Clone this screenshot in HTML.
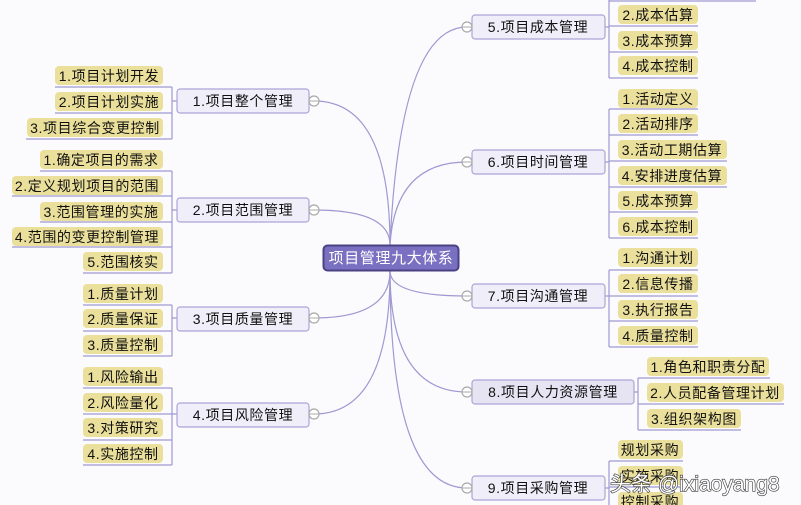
<!DOCTYPE html>
<html><head><meta charset="utf-8"><style>
html,body{margin:0;padding:0;background:#fbfbfd;}
svg{display:block}
text{font-family:"Liberation Sans","Noto Sans CJK SC",sans-serif;font-size:14px;fill:#111;letter-spacing:0.6px}
.lf{fill:#ebe09b}
.nd{fill:#efeef9;stroke:#aaa5d8;stroke-width:1.2}
.ln{fill:none;stroke:#9f99d3;stroke-width:1.2}
.cc{fill:#fff;stroke:#aaa;stroke-width:1.2}
</style></head><body>
<svg width="801" height="505" viewBox="0 0 801 505" xmlns="http://www.w3.org/2000/svg">
<g class="ln">
<path d="M390 245 Q390 101 314 101"/>
<path d="M390 245 Q390 210 314 210"/>
<path d="M390 271 Q390 318 314 318"/>
<path d="M390 271 Q390 414 314 414"/>
<path d="M390 245 Q400 27 467 27"/>
<path d="M390 245 Q395 162 467 162"/>
<path d="M390 271 Q390 296 467 296"/>
<path d="M390 271 Q390 392 467 392"/>
<path d="M390 271 Q390 488 467 488"/>
</g>
<g class="ln">
<path d="M55 87H172M55 113H172M26 139H172M172 87V139M172 101H177"/>
<path d="M40 171H172M12 196H172M40 222H172M12 247H172M83 273H172M172 171V273M172 210H177"/>
<path d="M83 305H172M83 331H172M83 356H172M172 305V356M172 318H177"/>
<path d="M83 388H172M83 414H172M83 440H172M83 465H172M172 388V465M172 414H177"/>
<path d="M609 1H756M609 26H698M609 52H698M609 78H698M609 0V78M605 27H609"/>
<path d="M609 109H698M609 135H698M609 161H727M609 187H727M609 212H698M609 238H698M609 109V238M605 162H609"/>
<path d="M609 270H698M609 296H698M609 321H698M609 347H698M609 270V347M605 296H609"/>
<path d="M638 378H770M638 404H784M638 430H741M638 378V430M634 392H638"/>
<path d="M609 461H683M609 487H683M609 461V505M605 488H609"/>
</g>
<g>
<rect class="lf" x="55" y="66" width="108" height="19" rx="4"/><text x="109" y="81" text-anchor="middle">1.项目计划开发</text>
<rect class="lf" x="55" y="92" width="108" height="19" rx="4"/><text x="109" y="107" text-anchor="middle">2.项目计划实施</text>
<rect class="lf" x="27" y="118" width="136" height="19" rx="4"/><text x="95" y="133" text-anchor="middle">3.项目综合变更控制</text>
<rect class="lf" x="40" y="150" width="123" height="19" rx="4"/><text x="101" y="165" text-anchor="middle">1.确定项目的需求</text>
<rect class="lf" x="12" y="176" width="151" height="19" rx="4"/><text x="87" y="191" text-anchor="middle">2.定义规划项目的范围</text>
<rect class="lf" x="40" y="202" width="123" height="19" rx="4"/><text x="101" y="217" text-anchor="middle">3.范围管理的实施</text>
<rect class="lf" x="12" y="227" width="151" height="19" rx="4"/><text x="87" y="242" text-anchor="middle">4.范围的变更控制管理</text>
<rect class="lf" x="83" y="252" width="80" height="19" rx="4"/><text x="123" y="267" text-anchor="middle">5.范围核实</text>
<rect class="lf" x="83" y="284" width="80" height="19" rx="4"/><text x="123" y="299" text-anchor="middle">1.质量计划</text>
<rect class="lf" x="83" y="309" width="80" height="19" rx="4"/><text x="123" y="324" text-anchor="middle">2.质量保证</text>
<rect class="lf" x="83" y="335" width="80" height="19" rx="4"/><text x="123" y="350" text-anchor="middle">3.质量控制</text>
<rect class="lf" x="83" y="367" width="80" height="19" rx="4"/><text x="123" y="382" text-anchor="middle">1.风险输出</text>
<rect class="lf" x="83" y="393" width="80" height="19" rx="4"/><text x="123" y="408" text-anchor="middle">2.风险量化</text>
<rect class="lf" x="83" y="418" width="80" height="19" rx="4"/><text x="123" y="433" text-anchor="middle">3.对策研究</text>
<rect class="lf" x="83" y="444" width="80" height="19" rx="4"/><text x="123" y="459" text-anchor="middle">4.实施控制</text>
</g>
<g>
<rect class="lf" x="618" y="5" width="80" height="19" rx="4"/><text x="658" y="20" text-anchor="middle">2.成本估算</text>
<rect class="lf" x="618" y="31" width="80" height="19" rx="4"/><text x="658" y="46" text-anchor="middle">3.成本预算</text>
<rect class="lf" x="618" y="56" width="80" height="19" rx="4"/><text x="658" y="71" text-anchor="middle">4.成本控制</text>
<rect class="lf" x="618" y="89" width="80" height="19" rx="4"/><text x="658" y="104" text-anchor="middle">1.活动定义</text>
<rect class="lf" x="618" y="114" width="80" height="19" rx="4"/><text x="658" y="129" text-anchor="middle">2.活动排序</text>
<rect class="lf" x="618" y="140" width="109" height="19" rx="4"/><text x="672" y="155" text-anchor="middle">3.活动工期估算</text>
<rect class="lf" x="618" y="166" width="109" height="19" rx="4"/><text x="672" y="181" text-anchor="middle">4.安排进度估算</text>
<rect class="lf" x="618" y="191" width="80" height="19" rx="4"/><text x="658" y="206" text-anchor="middle">5.成本预算</text>
<rect class="lf" x="618" y="217" width="80" height="19" rx="4"/><text x="658" y="232" text-anchor="middle">6.成本控制</text>
<rect class="lf" x="618" y="248" width="80" height="19" rx="4"/><text x="658" y="263" text-anchor="middle">1.沟通计划</text>
<rect class="lf" x="618" y="274" width="80" height="19" rx="4"/><text x="658" y="289" text-anchor="middle">2.信息传播</text>
<rect class="lf" x="618" y="300" width="80" height="19" rx="4"/><text x="658" y="315" text-anchor="middle">3.执行报告</text>
<rect class="lf" x="618" y="326" width="80" height="19" rx="4"/><text x="658" y="341" text-anchor="middle">4.质量控制</text>
<rect class="lf" x="647" y="357" width="122" height="19" rx="4"/><text x="708" y="372" text-anchor="middle">1.角色和职责分配</text>
<rect class="lf" x="647" y="383" width="137" height="19" rx="4"/><text x="715" y="398" text-anchor="middle">2.人员配备管理计划</text>
<rect class="lf" x="647" y="409" width="94" height="19" rx="4"/><text x="694" y="424" text-anchor="middle">3.组织架构图</text>
<rect class="lf" x="618" y="440" width="65" height="19" rx="4"/><text x="650" y="455" text-anchor="middle">规划采购</text>
<rect class="lf" x="618" y="466" width="65" height="19" rx="4"/><text x="650" y="481" text-anchor="middle">实施采购</text>
<rect class="lf" x="618" y="492" width="65" height="19" rx="4"/><text x="650" y="507" text-anchor="middle">控制采购</text>
</g>
<g>
<rect class="nd" x="177" y="89" width="132" height="24" rx="3"/><text x="243" y="106" text-anchor="middle">1.项目整个管理</text>
<rect class="nd" x="177" y="198" width="132" height="24" rx="3"/><text x="243" y="215" text-anchor="middle">2.项目范围管理</text>
<rect class="nd" x="177" y="307" width="132" height="24" rx="3"/><text x="243" y="324" text-anchor="middle">3.项目质量管理</text>
<rect class="nd" x="177" y="403" width="132" height="24" rx="3"/><text x="243" y="420" text-anchor="middle">4.项目风险管理</text>
<rect class="nd" x="472" y="15" width="133" height="24" rx="3"/><text x="538" y="32" text-anchor="middle">5.项目成本管理</text>
<rect class="nd" x="472" y="150" width="133" height="24" rx="3"/><text x="538" y="167" text-anchor="middle">6.项目时间管理</text>
<rect class="nd" x="472" y="284" width="133" height="24" rx="3"/><text x="538" y="301" text-anchor="middle">7.项目沟通管理</text>
<rect class="nd" x="472" y="380" width="162" height="24" rx="3" style="fill:#e6e3f3"/><text x="553" y="397" text-anchor="middle">8.项目人力资源管理</text>
<rect class="nd" x="472" y="476" width="133" height="24" rx="3"/><text x="538" y="493" text-anchor="middle">9.项目采购管理</text>
</g>
<g>
<circle class="cc" cx="314" cy="101" r="5"/><path d="M309 101H319" stroke="#aaa"/>
<circle class="cc" cx="314" cy="210" r="5"/><path d="M309 210H319" stroke="#aaa"/>
<circle class="cc" cx="314" cy="318" r="5"/><path d="M309 318H319" stroke="#aaa"/>
<circle class="cc" cx="314" cy="414" r="5"/><path d="M309 414H319" stroke="#aaa"/>
<circle class="cc" cx="467" cy="27" r="5"/><path d="M462 27H472" stroke="#aaa"/>
<circle class="cc" cx="467" cy="162" r="5"/><path d="M462 162H472" stroke="#aaa"/>
<circle class="cc" cx="467" cy="296" r="5"/><path d="M462 296H472" stroke="#aaa"/>
<circle class="cc" cx="467" cy="392" r="5"/><path d="M462 392H472" stroke="#aaa"/>
<circle class="cc" cx="467" cy="488" r="5"/><path d="M462 488H472" stroke="#aaa"/>
</g>
<rect x="323.5" y="245.5" width="135" height="25" rx="4" fill="#7a70c2" stroke="#4a4282" stroke-width="2"/>
<text x="391" y="263" text-anchor="middle" style="fill:#fff;font-size:15px">项目管理九大体系</text>
<text x="610" y="491" style="fill:#fff;font-size:21px;stroke:#333;stroke-width:1.2;paint-order:stroke;letter-spacing:0">头条 @ixiaoyang8</text>
</svg>
</body></html>
